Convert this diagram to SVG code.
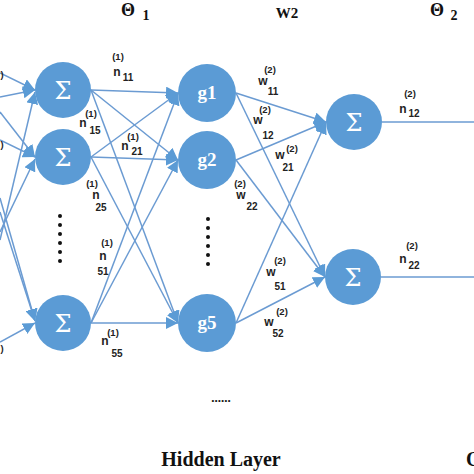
<svg xmlns="http://www.w3.org/2000/svg" width="474" height="474" viewBox="0 0 474 474">
<defs>
<marker id="ah" markerUnits="userSpaceOnUse" markerWidth="13" markerHeight="12" refX="12" refY="6" orient="auto">
<path d="M0,0 L12,6 L0,12 Z" fill="#5b9bd5"/>
</marker>
<style>
.node{fill:#5b9bd5;}
.sig{font-family:"DejaVu Serif","Liberation Serif",serif;font-size:24px;fill:#fff;text-anchor:middle;}
.g{font-family:"Liberation Serif",serif;font-weight:bold;font-size:19px;fill:#fff;text-anchor:middle;}
.ln{stroke:#6b9bd2;stroke-width:1.5;fill:none;}
.ar{marker-end:url(#ah);}
.sup{font-family:"Liberation Sans",Arial,sans-serif;font-weight:bold;font-size:9.5px;fill:#222;text-anchor:middle;}
.n{font-family:"Liberation Sans",Arial,sans-serif;font-weight:bold;font-size:12px;fill:#222;text-anchor:middle;}
.sub{font-family:"Liberation Sans",Arial,sans-serif;font-weight:bold;font-size:10px;fill:#222;text-anchor:middle;}
.title{font-family:"Liberation Serif",serif;font-weight:bold;fill:#111;}
.dot{fill:#111;}
</style>
</defs>
<rect width="474" height="474" fill="#fff"/>

<g id="connectors">
<line class="ln ar" x1="0" y1="73" x2="35" y2="90"/>
<line class="ln ar" x1="0" y1="97" x2="35" y2="90"/>
<line class="ln ar" x1="0" y1="240" x2="35" y2="92"/>
<line class="ln ar" x1="0" y1="112" x2="35" y2="157"/>
<line class="ln ar" x1="0" y1="140" x2="35" y2="157"/>
<line class="ln ar" x1="0" y1="232" x2="35" y2="159"/>
<line class="ln ar" x1="0" y1="198" x2="35" y2="321"/>
<line class="ln ar" x1="0" y1="212" x2="35" y2="321"/>
<line class="ln ar" x1="0" y1="342" x2="35" y2="323"/>
<line class="ln ar" x1="91" y1="90" x2="178" y2="93"/>
<line class="ln ar" x1="91" y1="90" x2="178" y2="160"/>
<line class="ln ar" x1="91" y1="90" x2="178" y2="323"/>
<line class="ln ar" x1="91" y1="157" x2="178" y2="93"/>
<line class="ln ar" x1="91" y1="157" x2="178" y2="160"/>
<line class="ln ar" x1="91" y1="157" x2="178" y2="323"/>
<line class="ln ar" x1="91" y1="323" x2="178" y2="93"/>
<line class="ln ar" x1="91" y1="323" x2="178" y2="160"/>
<line class="ln ar" x1="91" y1="323" x2="178" y2="323"/>
<line class="ln ar" x1="236" y1="93" x2="326" y2="122"/>
<line class="ln ar" x1="236" y1="93" x2="325" y2="277"/>
<line class="ln ar" x1="236" y1="160" x2="326" y2="122"/>
<line class="ln ar" x1="236" y1="160" x2="325" y2="277"/>
<line class="ln ar" x1="236" y1="323" x2="326" y2="122"/>
<line class="ln ar" x1="236" y1="323" x2="325" y2="277"/>
<line class="ln" x1="382" y1="122" x2="474" y2="122"/>
<line class="ln" x1="381" y1="277" x2="474" y2="277"/>
</g>

<g id="s1"><circle class="node" cx="63" cy="90" r="28"/><text class="sig" x="63" y="99">Σ</text></g>
<g id="s2"><circle class="node" cx="63" cy="157" r="28"/><text class="sig" x="63" y="166">Σ</text></g>
<g id="s5"><circle class="node" cx="63" cy="323" r="28"/><text class="sig" x="63" y="332">Σ</text></g>
<g id="g1"><circle class="node" cx="207" cy="93" r="29"/><text class="g" x="207" y="99">g1</text></g>
<g id="g2"><circle class="node" cx="207" cy="160" r="29"/><text class="g" x="207" y="166">g2</text></g>
<g id="g5"><circle class="node" cx="207" cy="323" r="29"/><text class="g" x="207" y="329">g5</text></g>
<g id="o1"><circle class="node" cx="354" cy="122" r="28"/><text class="sig" x="354" y="131">Σ</text></g>
<g id="o2"><circle class="node" cx="353" cy="277" r="28"/><text class="sig" x="353" y="286">Σ</text></g>

<g id="vdots1">
<circle class="dot" cx="60" cy="216" r="2"/><circle class="dot" cx="60" cy="225" r="2"/><circle class="dot" cx="60" cy="234" r="2"/><circle class="dot" cx="60" cy="243" r="2"/><circle class="dot" cx="60" cy="252" r="2"/><circle class="dot" cx="60" cy="261" r="2"/>
</g>
<g id="vdots2">
<circle class="dot" cx="208" cy="219" r="2"/><circle class="dot" cx="208" cy="228" r="2"/><circle class="dot" cx="208" cy="237" r="2"/><circle class="dot" cx="208" cy="246" r="2"/><circle class="dot" cx="208" cy="255" r="2"/><circle class="dot" cx="208" cy="264" r="2"/>
</g>

<g id="labels">
<text class="sup" x="2" y="78" text-anchor="start">)</text>
<text class="sup" x="2" y="148" text-anchor="start">)</text>
<text class="sup" x="2" y="352" text-anchor="start">)</text>

<text class="sup" x="118" y="60">(1)</text><text class="n" x="117" y="76">n</text><text class="sub" x="128" y="81">11</text>
<text class="sup" x="91" y="117">(1)</text><text class="n" x="83" y="127">n</text><text class="sub" x="95" y="134">15</text>
<text class="sup" x="133" y="140">(1)</text><text class="n" x="125" y="150">n</text><text class="sub" x="137" y="155">21</text>
<text class="sup" x="92" y="187">(1)</text><text class="n" x="96" y="199">n</text><text class="sub" x="101" y="211">25</text>
<text class="sup" x="107" y="246">(1)</text><text class="n" x="103" y="260">n</text><text class="sub" x="103" y="275">51</text>
<text class="sup" x="113" y="336">(1)</text><text class="n" x="105" y="345">n</text><text class="sub" x="117" y="357">55</text>

<text class="sup" x="270" y="73">(2)</text><text class="n" x="263" y="85">w</text><text class="sub" x="273" y="95">11</text>
<text class="sup" x="265" y="113">(2)</text><text class="n" x="258" y="124">w</text><text class="sub" x="268" y="139">12</text>
<text class="sup" x="292" y="152">(2)</text><text class="n" x="280" y="159">w</text><text class="sub" x="288" y="171">21</text>
<text class="sup" x="240" y="187">(2)</text><text class="n" x="241" y="199">w</text><text class="sub" x="252" y="210">22</text>
<text class="sup" x="280" y="264">(2)</text><text class="n" x="271" y="276">w</text><text class="sub" x="280" y="290">51</text>
<text class="sup" x="282" y="315">(2)</text><text class="n" x="269" y="326">w</text><text class="sub" x="278" y="337">52</text>

<text class="sup" x="410" y="97">(2)</text><text class="n" x="403" y="113">n</text><text class="sub" x="414" y="117">12</text>
<text class="sup" x="412" y="249">(2)</text><text class="n" x="403" y="263">n</text><text class="sub" x="414" y="269">22</text>
</g>

<g id="titles">
<text class="title" x="128" y="16" font-size="18" text-anchor="middle">Θ</text>
<text class="title" x="146" y="20" font-size="14" text-anchor="middle">1</text>
<text class="title" x="287" y="18" font-size="15" text-anchor="middle">W2</text>
<text class="title" x="437" y="16" font-size="18" text-anchor="middle">Θ</text>
<text class="title" x="454" y="20" font-size="14" text-anchor="middle">2</text>
<text class="title" x="221" y="402" font-size="13" text-anchor="middle">......</text>
<text class="title" x="221" y="466" font-size="20" text-anchor="middle">Hidden Layer</text>
<text class="title" x="466" y="466" font-size="20">Output Layer</text>
</g>
</svg>
